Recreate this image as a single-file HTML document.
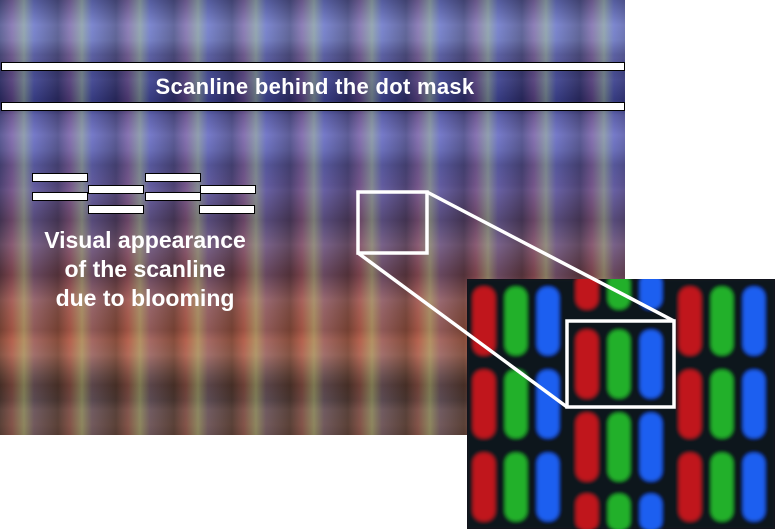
<!DOCTYPE html>
<html style="overflow:hidden"><head><style>
html,body{margin:0;width:775px;height:529px;overflow:hidden}
body{background:#fff;position:relative;font-family:"Liberation Sans",sans-serif}
#photo{position:absolute;left:0;top:0;width:625px;height:435px;
background:
repeating-linear-gradient(90deg,rgba(0,0,0,0.22) 0px,rgba(220,90,90,0.15) 12px,rgba(190,230,140,0.35) 24px,rgba(100,140,255,0.12) 34px,rgba(0,0,0,0.22) 58px),
repeating-linear-gradient(180deg,rgba(0,0,0,0.18) 0px,rgba(255,255,255,0.08) 25px,rgba(0,0,0,0.18) 55px),
linear-gradient(180deg,#6468b0 0px,#8088d0 40px,#6a68b0 58px,#3a3a80 72px,#30307a 100px,#6a68b8 115px,#7070c0 150px,#5a4c90 185px,#6a5078 230px,#7a4a5a 270px,#a05a4c 310px,#c06a50 340px,#7a5040 375px,#583c34 400px,#7a5446 425px);}
.bar{position:absolute;background:#fff;border:1px solid #000;box-sizing:border-box}
.t{position:absolute;color:#fff;font-weight:bold;text-align:center;white-space:nowrap}
svg{position:absolute;left:0;top:0;display:block;overflow:hidden}
</style></head><body>
<div id="photo"></div>
<div class="bar" style="left:1px;top:62px;width:624px;height:9px"></div>
<div class="bar" style="left:1px;top:102px;width:624px;height:9px"></div>
<div class="t" style="left:0;width:630px;top:74px;font-size:22px;letter-spacing:0.3px">Scanline behind the dot mask</div>
<div class="bar" style="left:32px;top:173px;width:56px;height:9px"></div>
<div class="bar" style="left:145px;top:173px;width:56px;height:9px"></div>
<div class="bar" style="left:88px;top:185px;width:56px;height:9px"></div>
<div class="bar" style="left:200px;top:185px;width:56px;height:9px"></div>
<div class="bar" style="left:32px;top:192px;width:56px;height:9px"></div>
<div class="bar" style="left:145px;top:192px;width:56px;height:9px"></div>
<div class="bar" style="left:88px;top:205px;width:56px;height:9px"></div>
<div class="bar" style="left:199px;top:205px;width:56px;height:9px"></div>
<div class="t" style="left:10px;width:270px;top:226px;font-size:23px;line-height:29px">Visual appearance<br>of the scanline<br>due to blooming</div>
<svg width="775" height="529">
<defs><filter id="b" x="0" y="0" width="1" height="1"><feGaussianBlur stdDeviation="1.8"/></filter>
<g id="col">
<rect x="0" y="0" width="22" height="68" rx="10" fill="#c0181e"/>
<rect x="32" y="0" width="22" height="68" rx="10" fill="#22b02a"/>
<rect x="64" y="0" width="22" height="68" rx="10" fill="#1a5ef0"/>
</g>
<g id="colT">
<rect x="0" y="0" width="22" height="37" rx="10" fill="#c0181e"/>
<rect x="32" y="0" width="22" height="37" rx="10" fill="#22b02a"/>
<rect x="64" y="0" width="22" height="37" rx="10" fill="#1a5ef0"/>
</g>
<clipPath id="c"><rect x="467" y="279" width="308" height="250"/></clipPath>
</defs>
<g clip-path="url(#c)">
<rect x="467" y="279" width="308" height="250" fill="#10121a"/>
<g filter="url(#b)">
<rect x="467" y="279" width="308" height="250" fill="#10121a"/>
<use href="#col" x="473" y="287"/><use href="#col" x="473" y="370"/><use href="#col" x="473" y="453"/>
<use href="#colT" x="576" y="272"/><use href="#col" x="576" y="330"/><use href="#col" x="576" y="413"/><use href="#colT" x="576" y="494"/>
<use href="#col" x="679" y="287"/><use href="#col" x="679" y="370"/><use href="#col" x="679" y="453"/>
</g>
</g>
<g fill="none" stroke="#fff" stroke-width="3.5">
<rect x="358" y="192" width="69" height="61"/>
<rect x="567" y="321" width="107" height="86"/>
<line x1="427" y1="192" x2="674" y2="321"/>
<line x1="358" y1="253" x2="567" y2="407"/>
</g>
</svg>
</body></html>
